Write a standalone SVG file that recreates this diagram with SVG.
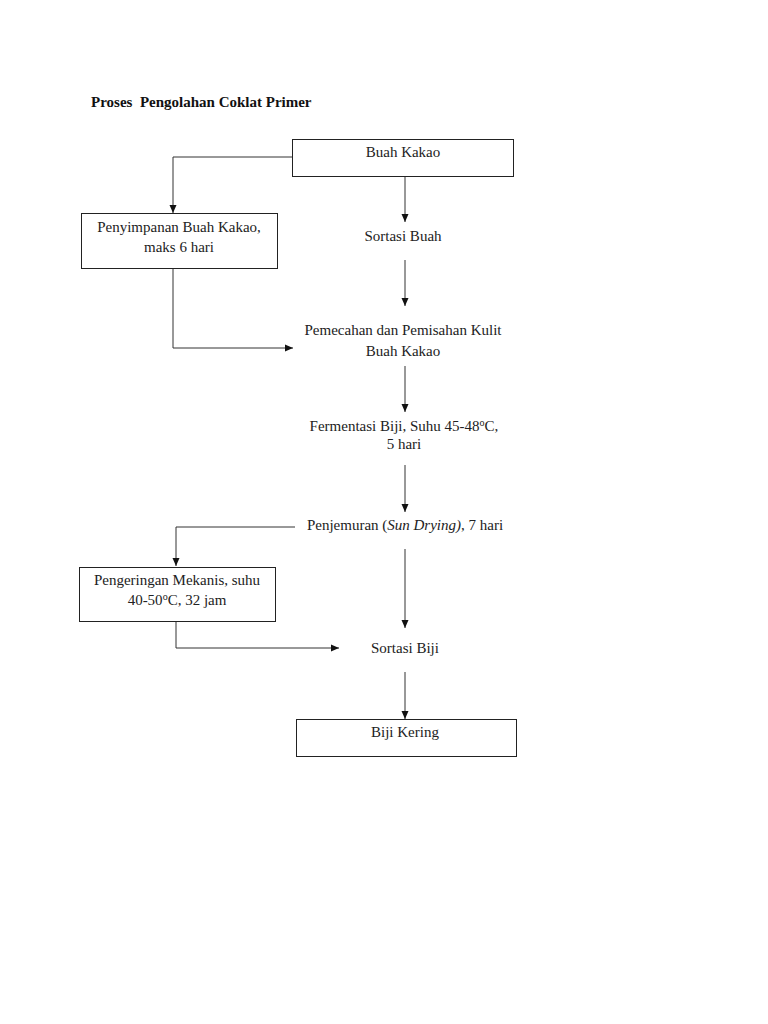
<svg xmlns="http://www.w3.org/2000/svg" width="768" height="1024" viewBox="0 0 768 1024">
<style>
text{font-family:"Liberation Serif","Times New Roman",serif;font-size:15px;fill:#222;}
.t{font-weight:bold;font-size:15px;fill:#111;white-space:pre;}
.c{text-anchor:middle;}
.box{fill:#fff;stroke:#222;stroke-width:1;}
.ln{fill:none;stroke:#333;stroke-width:1;}
</style>
<defs>
<marker id="ah" markerWidth="8" markerHeight="8" refX="8" refY="4" orient="auto" markerUnits="userSpaceOnUse">
<path d="M0,0.5 L8,4 L0,7.5 Z" fill="#111"/>
</marker>
</defs>
<rect width="768" height="1024" fill="#fff"/>
<text class="t" x="91" y="107" xml:space="preserve">Proses  Pengolahan Coklat Primer</text>
<g id="connectors">
<polyline class="ln" points="292,157 173,157 173,213" marker-end="url(#ah)"/>
<line class="ln" x1="405" y1="176" x2="405" y2="222" marker-end="url(#ah)"/>
<line class="ln" x1="405" y1="260" x2="405" y2="306" marker-end="url(#ah)"/>
<polyline class="ln" points="173,268 173,348 293,348" marker-end="url(#ah)"/>
<line class="ln" x1="405" y1="366" x2="405" y2="412" marker-end="url(#ah)"/>
<line class="ln" x1="405" y1="465" x2="405" y2="512" marker-end="url(#ah)"/>
<polyline class="ln" points="295,527 176,527 176,566" marker-end="url(#ah)"/>
<line class="ln" x1="405" y1="549" x2="405" y2="628" marker-end="url(#ah)"/>
<polyline class="ln" points="176,621 176,648 339,648" marker-end="url(#ah)"/>
<line class="ln" x1="405" y1="672" x2="405" y2="719" marker-end="url(#ah)"/>
</g>
<g id="buah-kakao">
<rect class="box" x="292.5" y="139.5" width="221" height="37"/>
<text class="c" x="403" y="157">Buah Kakao</text>
</g>
<g id="penyimpanan">
<rect class="box" x="81.5" y="213.5" width="196" height="55"/>
<text class="c" x="179" y="232">Penyimpanan Buah Kakao,</text>
<text class="c" x="179" y="252">maks 6 hari</text>
</g>
<g id="sortasi-buah">
<text class="c" x="403" y="241">Sortasi Buah</text>
</g>
<g id="pemecahan">
<text class="c" x="403" y="335">Pemecahan dan Pemisahan Kulit</text>
<text class="c" x="403" y="356">Buah Kakao</text>
</g>
<g id="fermentasi">
<text class="c" x="404" y="431">Fermentasi Biji, Suhu 45-48<tspan font-size="10" dy="-5">o</tspan><tspan dy="5">C,</tspan></text>
<text class="c" x="404" y="449">5 hari</text>
</g>
<g id="penjemuran">
<text class="c" x="405" y="530">Penjemuran (<tspan font-style="italic">Sun Drying)</tspan>, 7 hari</text>
</g>
<g id="pengeringan">
<rect class="box" x="79.5" y="567.5" width="196" height="54"/>
<text class="c" x="177" y="585">Pengeringan Mekanis, suhu</text>
<text class="c" x="177" y="605">40-50<tspan font-size="10" dy="-5">o</tspan><tspan dy="5">C, 32 jam</tspan></text>
</g>
<g id="sortasi-biji">
<text class="c" x="405" y="653">Sortasi Biji</text>
</g>
<g id="biji-kering">
<rect class="box" x="296.5" y="719.5" width="220" height="37"/>
<text class="c" x="405" y="737">Biji Kering</text>
</g>
</svg>
